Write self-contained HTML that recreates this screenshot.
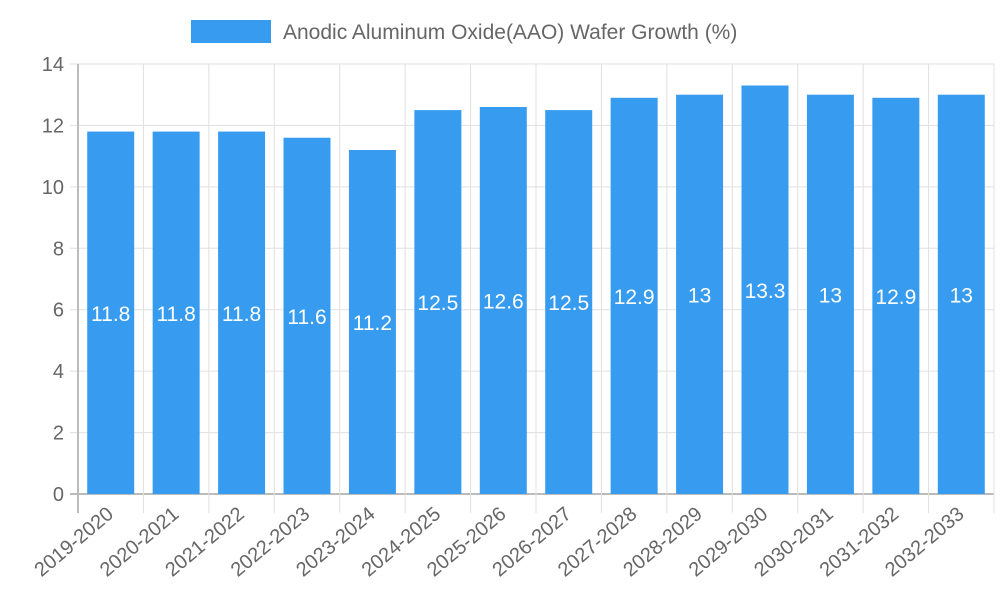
<!DOCTYPE html>
<html><head><meta charset="utf-8"><style>
html,body{margin:0;padding:0;background:#fff;width:1000px;height:600px;overflow:hidden}
text{font-family:"Liberation Sans",Arial,sans-serif}
</style></head><body>
<svg id="chart" width="1000" height="600" xmlns="http://www.w3.org/2000/svg">
<rect x="191" y="20" width="80" height="23" fill="#379cf0"/>
<text x="283" y="39" font-size="21" fill="#666">Anodic Aluminum Oxide(AAO) Wafer Growth (%)</text>
<g id="grid"></g><g id="bars"></g><g id="labels"></g>
</svg>
<script>
const categories=["2019-2020","2020-2021","2021-2022","2022-2023","2023-2024","2024-2025","2025-2026","2026-2027","2027-2028","2028-2029","2029-2030","2030-2031","2031-2032","2032-2033"];
const values=[11.8,11.8,11.8,11.6,11.2,12.5,12.6,12.5,12.9,13,13.3,13,12.9,13];
const yTicks=[0,2,4,6,8,10,12,14];
const NS="http://www.w3.org/2000/svg";
const L=78,R=994,T=64,B=494,yMax=14;
const bw=(R-L)/categories.length;
const y=v=>B-(v/yMax)*(B-T);
const x=i=>L+bw*i;
function mk(tag,attrs,parent,txt){const e=document.createElementNS(NS,tag);for(const k in attrs)e.setAttribute(k,attrs[k]);if(txt!==undefined)e.textContent=txt;parent.appendChild(e);return e;}
const g=document.getElementById('grid'),gb=document.getElementById('bars'),gl=document.getElementById('labels');
yTicks.forEach(t=>{
  const ln=mk('line',{x1:L-8,x2:R,y1:y(t),y2:y(t),stroke:t===0?'#bbb':'#e0e0e0','stroke-width':t===0?2:1},g);
  
  
  const tx=mk('text',{x:L-14,y:y(t)+7,'text-anchor':'end','font-size':20,fill:'#666'},g,t);
  
  
});
for(let i=0;i<=categories.length;i++){
  const ln=mk('line',{x1:x(i),x2:x(i),y1:T,y2:B+19,stroke:i===0?'#bbb':'#e0e0e0','stroke-width':i===0?2:1},g);
  
  
}
categories.forEach((c,i)=>{
  const cx=x(i)+bw/2, w=47;
  const r=mk('rect',{x:cx-w/2,y:y(values[i]),width:w,height:B-y(values[i]),fill:'#379cf0'},gb);
  
  
  const v=mk('text',{x:cx,y:(y(values[i])+B)/2+8,'text-anchor':'middle','font-size':21,fill:'#fff'},gl,values[i]);
  
  
  const t=mk('text',{x:cx+4,y:B+22,'text-anchor':'end','font-size':20,fill:'#666',transform:`rotate(-40 ${cx+4} ${B+22})`},gl,c);
  
  
});
</script>
</body></html>
